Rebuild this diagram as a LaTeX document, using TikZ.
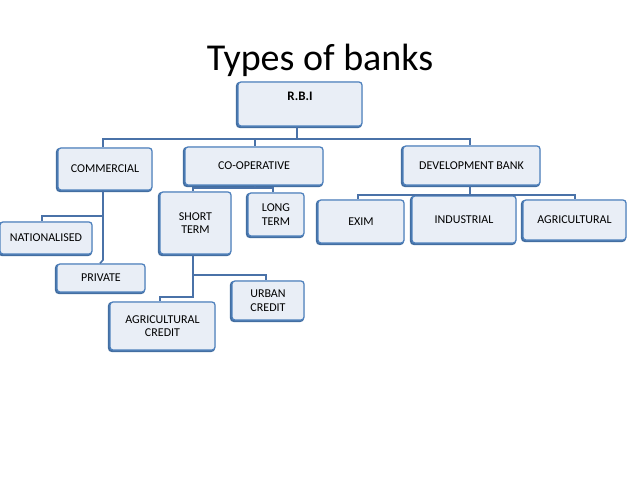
\documentclass[tikz,border=0pt]{standalone}
\usepackage{fontspec}
\setmainfont{Carlito}
\definecolor{bord}{HTML}{4F81BD}
\definecolor{fillc}{HTML}{E9EEF6}
\definecolor{lnc}{HTML}{4A72A8}
\begin{document}
\begin{tikzpicture}[x=1pt,y=-1pt,
 bx/.style={draw=bord,line width=1.3pt,fill=fillc,rounded corners=3pt,inner sep=0pt,align=center,font=\fontsize{12}{13.5}\selectfont,
   preaction={draw=bord!85!black,line width=2.2pt,rounded corners=3pt,transform canvas={xshift=-1pt,yshift=-1pt}}},
 ln/.style={draw=lnc,line width=1.6pt}]
\useasboundingbox (0,0) rectangle (638,479);
\node[font=\fontsize{38}{42}\selectfont] (title) at (320,60) {Types of banks};
\newcommand\bx[6]{\node[bx,minimum width=#4-#2,minimum height=#5-#3] (#1) at ({(#2+#4)/2},{(#3+#5)/2}) {#6};}
\bx{rbi}{238}{82}{362}{126}{}
\node[font=\fontsize{13}{14}\selectfont\bfseries] (rbit) at (rbi.north) [yshift=-15pt] {R.B.I};
\bx{com}{58}{148}{152}{190}{COMMERCIAL}
\bx{coop}{185}{147}{323}{185}{CO-OPERATIVE}
\bx{dev}{403}{146}{540}{185}{DEVELOPMENT BANK}
\bx{st}{160}{192}{231}{254}{SHORT\\TERM}
\bx{lt}{248}{193}{304}{236}{LONG\\TERM}
\bx{exim}{318}{200}{404}{243}{EXIM}
\bx{ind}{412}{196}{516}{243}{INDUSTRIAL}
\bx{agr}{523}{200}{626}{240}{AGRICULTURAL}
\bx{nat}{0}{222}{92}{254}{NATIONALISED}
\bx{pri}{57}{264}{145}{292}{PRIVATE}
\bx{ac}{110}{302}{215}{350}{AGRICULTURAL\\CREDIT}
\bx{uc}{232}{281}{304}{320}{URBAN\\CREDIT}
\coordinate (r1) at (297,139);
\draw[ln] (rbi.south -| r1) -- (r1) -- (470,139) -- (dev.north -| 470,0);
\draw[ln] (r1) -- (103,139) -- (com.north -| 103,0);
\draw[ln] (255,139) -- (coop.north -| 255,0);
\draw[ln] (com.south -| 103,0) -- (103,260) -- (pri.north -| 100,0);
\draw[ln] (103,216) -- (42,216) -- (nat.north -| 42,0);
\draw[ln] (coop.south -| 255,0) -- (255,188) -- (193,188) -- (st.north -| 193,0);
\draw[ln] (255,188) -- (273,188) -- (lt.north -| 273,0);
\draw[ln] (dev.south -| 470,0) -- (470,195) -- (358,195) -- (exim.north -| 358,0);
\draw[ln] (470,195) -- (575,195) -- (agr.north -| 575,0);
\draw[ln] (st.south -| 193,0) -- (193,275) -- (266,275) -- (uc.north -| 266,0);
\draw[ln] (193,275) -- (193,297) -- (160,297) -- (ac.north -| 160,0);
\end{tikzpicture}
\end{document}
